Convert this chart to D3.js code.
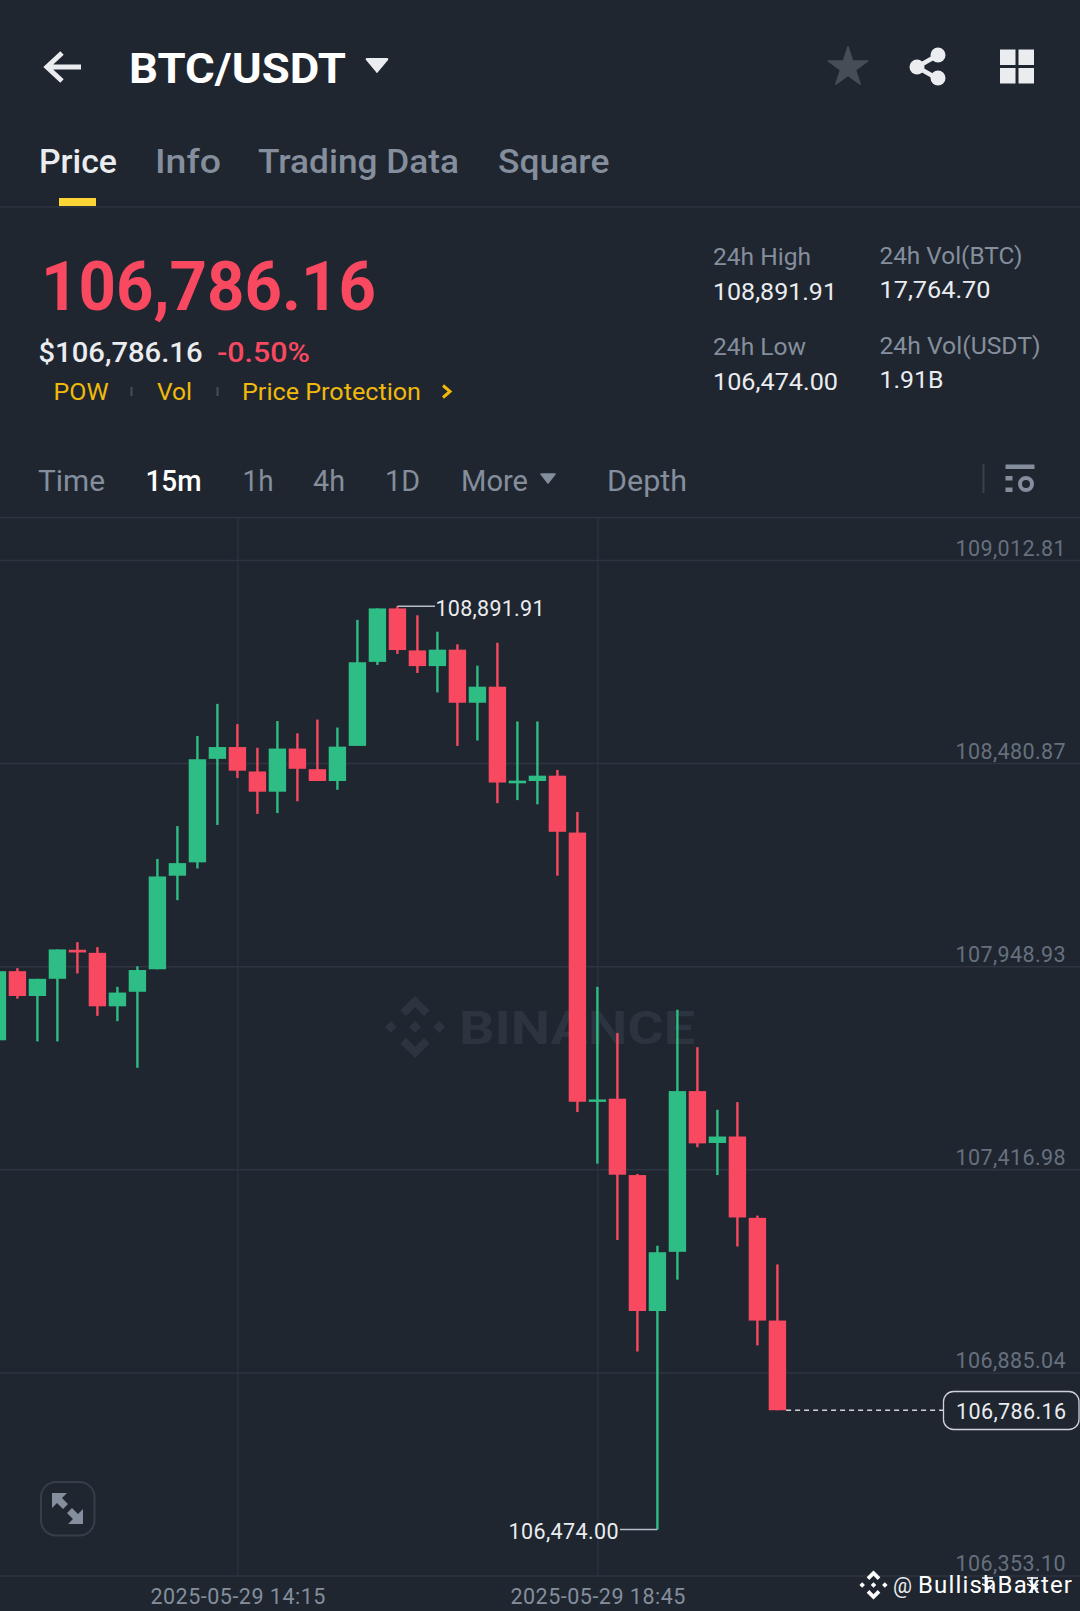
<!DOCTYPE html>
<html>
<head>
<meta charset="utf-8">
<style>
  html, body { margin: 0; padding: 0; background: #1f2630; }
  svg { display: block; }
  text { font-family: Roboto, "Noto Sans", sans-serif; }
</style>
<script src="https://cdn.jsdelivr.net/npm/d3@7/dist/d3.min.js"></script>
</head>
<body>
<svg id="chart" width="1080" height="1611"></svg>
<script>
// 15m candles
var times = ['11:15','11:30','11:45','12:00','12:15','12:30','12:45','13:00','13:15','13:30','13:45','14:00',
  '14:15','14:30','14:45','15:00','15:15','15:30','15:45','16:00','16:15','16:30','16:45','17:00','17:15','17:30','17:45','18:00',
  '18:15','18:30','18:45','19:00','19:15','19:30','19:45','20:00','20:15','20:30','20:45','21:00'];
var opens = [107755,107936,107871,107916,107992,107984,107844,107882,107941,108186,108221,108492,
  108523,108459,108406,108519,108465,108434,108526,108746,108886,108776,108735,108778,108639,108681,108428,108434,
  108448,108299,107594,107602,107402,107046,107201,107622,107486,107503,107290,107021];
var highs = [107936,107944,107916,107993,108012,107999,107895,107949,108230,108316,108552,108636,
  108583,108521,108591,108559,108595,108574,108856,108886,108891.91,108868,108825,108792,108736,108796,108590,108590,
  108463,108353,107895,107774,107405,107217,107835,107737,107573,107593,107296,107168];
var lows = [107755,107864,107752,107752,107930,107819,107805,107683,107941,108122,108205,108319,
  108442,108348,108350,108381,108434,108411,108526,108738,108767,108717,108666,108526,108540,108376,108384,108373,
  108186,107567,107432,107232,106940,106474,107128,107475,107402,107215,106956,106786.16];
var closes = [107936,107871,107916,107993,107985,107844,107880,107939,108184,108219,108491,108523,
  108461,108406,108519,108466,108434,108524,108745,108886,108777,108735,108778,108639,108681,108430,108435,108448,
  108301,107594,107600,107403,107046,107200,107622,107485,107503,107291,107021,106786.16];

var priceTicks = [109012.81,108480.87,107948.93,107416.98,106885.04,106353.10];
var timeTicks = ['14:15','18:45'];
var day = '2025-05-29';
var lastPrice = 106786.16, dayHigh = 108891.91, dayLow = 106474.00;

var tabs = ['Price','Info','Trading Data','Square'];
var tabX = [39,155,258,498], tabW = [78,66,201,111.5];
var intervals = ['Time','15m','1h','4h','1D','More','Depth'];
var intervalX = [38,145.5,242.5,313,385,461,607], intervalW = [67,56,31,32,35,67,80];

var bg = '#1f2630', grid = '#2e3540', up = '#2ebd85', down = '#f84960',
    white = '#eaecef', gray = '#848e9c', gold = '#f0b90b';

var svg = d3.select('#chart');
svg.append('rect').attr('width',1080).attr('height',1611).attr('fill',bg);

var parse = d3.timeParse('%Y-%m-%d %H:%M');
var fmtTime = d3.timeFormat('%Y-%m-%d %H:%M');
var fmtPrice = d3.format(',.2f');

// 14:15 and 18:45 are the two labelled verticals
var x = d3.scaleTime()
  .domain([parse(day+' 14:15'), parse(day+' 18:45')])
  .range([237.4,597.4]);
var y = d3.scaleLinear()
  .domain([priceTicks[5], priceTicks[0]])
  .range([1575.6,560]);

function label(px,py,str,size,fill,weight,w,adjust) {
  var t = svg.append('text').attr('x',px).attr('y',py).text(str)
    .attr('font-size',size).attr('fill',fill).attr('font-weight',weight||400);
  if (w) t.attr('textLength',w).attr('lengthAdjust',adjust||'spacingAndGlyphs');
  return t;
}

// binance mark: chevrons above and below, three small diamonds across
function logo(cx,cy,r,fill) {
  var g = svg.append('g').attr('transform','translate('+cx+','+cy+') scale('+r+')').attr('fill',fill);
  var chevron = [[0,-1],[0.47,-0.53],[0.29,-0.35],[0,-0.64],[-0.29,-0.35],[-0.47,-0.53]];
  g.append('polygon').attr('points',chevron.join(' '));
  g.append('polygon').attr('points',chevron.map(function(p){return [p[0],-p[1]];}).join(' '));
  [[-0.78,0],[0,0],[0.78,0]].forEach(function(c){
    g.append('polygon').attr('points',[[c[0]-0.19,c[1]],[c[0],c[1]-0.19],[c[0]+0.19,c[1]],[c[0],c[1]+0.19]].join(' '));
  });
}

/* ---------- header ---------- */
svg.append('path').attr('d','M81 67H48M62 53L47 67L62 81').attr('fill','none')
  .attr('stroke',white).attr('stroke-width',5);
label(129,82.5,'BTC/USDT',42,'#fff',700,217);
svg.append('path').attr('d','M367 58H387Q389 58 388 60L378 72Q377 74 376 72L366 60Q365 58 367 58Z').attr('fill',white);

svg.append('path').attr('d',d3.symbol(d3.symbolStar,480)()).attr('transform','translate(848,67.5)')
  .attr('fill','#474d57').attr('stroke','#474d57').attr('stroke-width',1.5).attr('stroke-linejoin','round');

var share = svg.append('g').attr('stroke',white).attr('fill',white);
share.append('path').attr('d','M938 55L917 67L938 79').attr('fill','none').attr('stroke-width',4.5);
[[938,55],[917,67],[938,78]].forEach(function(c){
  share.append('circle').attr('cx',c[0]).attr('cy',c[1]).attr('r',7.5).attr('stroke','none');
});

[[1000,49.5],[1018.5,49.5],[1000,68],[1018.5,68]].forEach(function(c){
  svg.append('rect').attr('x',c[0]).attr('y',c[1]).attr('width',15.5).attr('height',15.5).attr('fill',white);
});

tabs.forEach(function(d,i){
  label(tabX[i],172.5,d,33,i===0?white:gray,500,tabW[i]);
});
svg.append('rect').attr('x',59).attr('y',198).attr('width',37).attr('height',8).attr('fill','#fcd535');
svg.append('line').attr('x1',0).attr('x2',1080).attr('y1',207).attr('y2',207).attr('stroke',grid).attr('stroke-width',1.5);

/* ---------- price block ---------- */
label(41,309.5,fmtPrice(lastPrice),68,down,700,335);
label(38.5,361.5,'$'+fmtPrice(lastPrice),28,white,500,164);
label(217,361.5,'-0.50%',28,down,500,93);
label(53.5,399.5,'POW',24,gold,400,55);
label(157,399.5,'Vol',24,gold,400,35);
label(242,399.5,'Price Protection',24,gold,400,179);
[131.5,217.5].forEach(function(px){
  svg.append('line').attr('x1',px).attr('x2',px).attr('y1',387).attr('y2',396).attr('stroke','#474d57').attr('stroke-width',2);
});
svg.append('path').attr('d','M443 385.5L450 391.5L443 397.5').attr('fill','none').attr('stroke',gold).attr('stroke-width',3);

label(713,265,'24h High',24,gray,400,98);
label(713,300,fmtPrice(dayHigh),24,white,400,124);
label(713,355,'24h Low',24,gray,400,93);
label(713,390,fmtPrice(dayLow),24,white,400,125);
label(879.5,263.5,'24h Vol(BTC)',24,gray,400,143);
label(879.5,297.5,'17,764.70',24,white,400,111);
label(879.5,353.5,'24h Vol(USDT)',24,gray,400,161);
label(879.5,387.5,'1.91B',24,white,400,64);

/* ---------- interval row ---------- */
intervals.forEach(function(d,i){
  label(intervalX[i],490.5,d,29,i===1?'#fff':gray,i===1?500:400,intervalW[i]);
});
svg.append('path').attr('d','M541 474H555L548 483Z').attr('fill',gray).attr('stroke',gray).attr('stroke-linejoin','round').attr('stroke-width',1.5);
svg.append('line').attr('x1',983.5).attr('x2',983.5).attr('y1',464).attr('y2',493).attr('stroke','#3a414c').attr('stroke-width',2);
svg.append('rect').attr('x',1005.5).attr('y',464.5).attr('width',29).attr('height',4.5).attr('fill',gray);
svg.append('rect').attr('x',1005.5).attr('y',476).attr('width',7).attr('height',4.5).attr('fill',gray);
svg.append('rect').attr('x',1005.5).attr('y',487.5).attr('width',7).attr('height',4.5).attr('fill',gray);
svg.append('circle').attr('cx',1026).attr('cy',484).attr('r',6).attr('fill','none').attr('stroke',gray).attr('stroke-width',4);
svg.append('line').attr('x1',0).attr('x2',1080).attr('y1',517.5).attr('y2',517.5).attr('stroke',grid).attr('stroke-width',1.5);

/* ---------- axes ---------- */
var yAxis = d3.axisRight(y).tickValues(priceTicks).tickFormat(fmtPrice).tickSize(1080);
var yG = svg.append('g').attr('class','y-axis').call(yAxis);
yG.select('.domain').remove();
yG.selectAll('line').attr('stroke',grid).attr('stroke-width',1.5);
yG.selectAll('text')
  .attr('x',1065.5).attr('dy',0).attr('y',-5)
  .attr('text-anchor','end')
  .attr('fill','#66707e')
  .attr('font-size',21.5).attr('font-family','Roboto')
  .attr('textLength',110).attr('lengthAdjust','spacing');

var timeDates = timeTicks.map(function(t){return parse(day+' '+t);});
var xAxis = d3.axisBottom(x).tickValues(timeDates).tickFormat(fmtTime).tickSize(-1058);
var xG = svg.append('g').attr('class','x-axis').attr('transform','translate(0,1576)').call(xAxis);
xG.select('.domain').remove();
xG.selectAll('line').attr('stroke',grid).attr('stroke-width',1.2);
xG.selectAll('text')
  .attr('y',27.5).attr('dy',0)
  .attr('fill',gray)
  .attr('font-size',21.5).attr('font-family','Roboto')
  .attr('textLength',175).attr('lengthAdjust','spacing');

/* ---------- watermark under the candles ---------- */
logo(415,1027,31,'#2c3440');
label(459,1044,'BINANCE',46,'#2c3440',700,236);

/* ---------- candles ---------- */
var candles = times.map(function(t,i){
  return {t:parse(day+' '+t), o:opens[i], h:highs[i], l:lows[i], c:closes[i]};
});
var step = x(parse(day+' 14:30')) - x(parse(day+' 14:15'));
var bodyW = step*0.87;

var c = svg.append('g').selectAll('g').data(candles).join('g')
  .attr('fill',function(d){return d.c>=d.o?up:down;});
c.append('rect')
  .attr('x',function(d){return x(d.t)-1.2;})
  .attr('width',2.4)
  .attr('y',function(d){return y(d.h);})
  .attr('height',function(d){return y(d.l)-y(d.h);});
c.append('rect')
  .attr('x',function(d){return x(d.t)-bodyW/2;})
  .attr('width',bodyW)
  .attr('y',function(d){return y(Math.max(d.o,d.c));})
  .attr('height',function(d){return Math.max(2.4,Math.abs(y(d.o)-y(d.c)));});

/* ---------- high / low / last markers ---------- */
var highIdx = highs.indexOf(dayHigh), lowIdx = lows.indexOf(dayLow), lastX = x(candles[candles.length-1].t)+bodyW/2;
svg.append('line').attr('x1',x(candles[highIdx].t)).attr('x2',435).attr('y1',y(dayHigh)).attr('y2',y(dayHigh))
  .attr('stroke','#b7bdc6').attr('stroke-width',1.5);
label(435.5,615.5,fmtPrice(dayHigh),21.5,white,400,109,'spacing');
svg.append('line').attr('x1',620).attr('x2',x(candles[lowIdx].t)).attr('y1',y(dayLow)).attr('y2',y(dayLow))
  .attr('stroke','#b7bdc6').attr('stroke-width',1.5);
label(508.5,1539,fmtPrice(dayLow),21.5,white,400,110,'spacing');

svg.append('line').attr('x1',lastX).attr('x2',943).attr('y1',y(lastPrice)).attr('y2',y(lastPrice))
  .attr('stroke','#cfd3d9').attr('stroke-width',1.3).attr('stroke-dasharray','5 4');
svg.append('rect').attr('x',943.5).attr('y',1391.5).attr('width',135.5).attr('height',38).attr('rx',10)
  .attr('fill',bg).attr('stroke','#cfd3d9').attr('stroke-width',1.3);
label(956,1419,fmtPrice(lastPrice),21.5,white,400,110,'spacing');

/* ---------- expand button ---------- */
svg.append('rect').attr('x',41).attr('y',1482).attr('width',53.5).attr('height',53.5).attr('rx',15)
  .attr('fill','none').attr('stroke','#373e49').attr('stroke-width',2);
svg.append('path').attr('d','M52 1493H67L62 1498L68 1504L63 1509L57 1503L52 1508Z').attr('fill',gray);
svg.append('path').attr('d','M83 1524H68L73 1519L67 1513L72 1508L78 1514L83 1509Z').attr('fill',gray);

/* ---------- corner credit ---------- */
logo(873.5,1585,14.5,'#fff');
label(893,1593,'@',22,'#eaecef',400,19);
label(918,1593,'BullishBaxter',24,'#fff',400,154,'spacing');
// the source has two letters scrambled by an overlay
[982,1027].forEach(function(px){
  svg.append('path')
    .attr('d','M'+px+' 1578h11M'+px+' 1584l11 5M'+(px+3)+' 1592l8-8M'+(px+5)+' 1577v16')
    .attr('stroke','#fff').attr('stroke-width',1.6).attr('fill','none');
});
</script>
</body>
</html>
